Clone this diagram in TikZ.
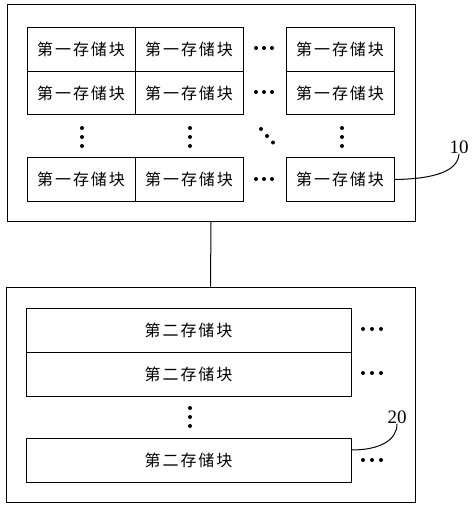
\documentclass[tikz,border=0pt]{standalone}
\usepackage{fontspec}
\setmainfont{Liberation Serif}
\newfontfamily\cjk[LetterSpace=12]{Noto Sans CJK SC}
\begin{document}
\begin{tikzpicture}[x=1pt,y=-1pt,
  line width=1pt,
  cellbox/.style={draw, inner sep=0pt, minimum width=108pt, minimum height=43.5pt, font=\cjk\fontsize{16}{18}\selectfont},
  rowbox/.style={draw, inner sep=0pt, minimum width=325pt, minimum height=44pt, font=\cjk\fontsize{16}{18}\selectfont},
  reflabel/.style={font=\fontsize{19}{21}\selectfont, inner sep=0pt}
]
\useasboundingbox (0,0) rectangle (474,508);
\def\dotr{2pt}
% outer boxes
\node[draw, inner sep=0pt, minimum width=408pt, minimum height=216pt] (top) at (211,113) {};
\node[draw, inner sep=0pt, minimum width=409pt, minimum height=215pt] (bot) at (210.5,394.5) {};
\draw (top.south) -- (bot.north);
% grid of first blocks
\node[cellbox] (a11) at (81,49.5) {第一存储块};
\node[cellbox] (a12) at (189,49.5) {第一存储块};
\node[cellbox] (a14) at (340,49.5) {第一存储块};
\node[cellbox] (a21) at (81,93) {第一存储块};
\node[cellbox] (a22) at (189,93) {第一存储块};
\node[cellbox] (a24) at (340,93) {第一存储块};
\node[cellbox] (a31) at (81,179.5) {第一存储块};
\node[cellbox] (a32) at (189,179.5) {第一存储块};
\node[cellbox] (a34) at (340,179.5) {第一存储块};
% horizontal dots
\foreach \y in {48,92,179} {
  \foreach \x in {256,264,272} \fill (\x,\y) circle (\dotr);
}
% vertical dots
\foreach \x in {82,190,342} {
  \foreach \y in {128,137,146} \fill (\x,\y) circle (\dotr);
}
% diagonal dots
\fill (261,129) circle (\dotr) (267,136) circle (\dotr) (273,142.5) circle (\dotr);
% label 10
\node[reflabel] (l10) at (459,147) {10};
\draw (a34.east) .. controls (432,179) and (458,172) .. (l10.south);
% second blocks
\node[rowbox] (b1) at (188.5,330) {第二存储块};
\node[rowbox] (b2) at (188.5,374.5) {第二存储块};
\node[rowbox] (b3) at (188.5,460) {第二存储块};
\foreach \y in {329,373,460} {
  \foreach \x in {363,372,381} \fill (\x,\y) circle (\dotr);
}
\foreach \y in {408,417,426} \fill (190,\y) circle (\dotr);
\node[reflabel] (l20) at (397,417) {20};
\draw ([yshift=10pt]b3.east) .. controls (380,450) and (397,440) .. (l20.south);
\end{tikzpicture}
\end{document}
